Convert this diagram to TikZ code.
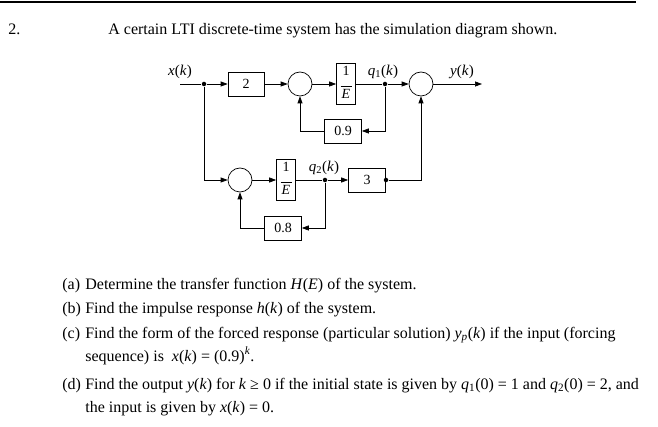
\documentclass[tikz,border=0pt]{standalone}
\usepackage{fontspec}
\setmainfont{Liberation Serif}
\usetikzlibrary{arrows.meta}
\newcommand{\iv}[1]{\textit{#1}}
\newcommand{\fracE}{\begin{tabular}{@{}c@{}}1\\[-4pt]\rule{11pt}{0.6pt}\\[-3pt]\iv{E}\end{tabular}}
\begin{document}
\begin{tikzpicture}[x=1pt,y=-1pt,
  blk/.style={draw,inner sep=0pt,minimum height=24pt,font=\fontsize{14}{15}\selectfont},
  intg/.style={draw,inner sep=1pt,minimum width=19pt,minimum height=41pt,font=\fontsize{14}{15}\selectfont},
  sumc/.style={draw,circle,minimum size=24pt,inner sep=0pt},
  dotn/.style={circle,fill,inner sep=0pt,minimum size=4.5pt},
  lbl/.style={font=\fontsize{15}{16}\selectfont},
  txt/.style={anchor=base west,inner sep=0pt,font=\fontsize{16}{17}\selectfont},
  ar/.style={-{Triangle[length=7pt,width=5pt]}},
  line width=0.7pt]
\useasboundingbox (0,0) rectangle (658,427);
\draw[line width=2pt] (0,2) -- (636,2);
\node[txt] (num) at (8,35) {2.};
\node[txt] (intro) at (108,35) {A certain LTI discrete-time system has the simulation diagram shown.};
% diagram
\coordinate (xin) at (180,84);
\node[dotn] (d1) at (204,84) {};
\node[blk,minimum width=36pt] (g2) at (246,84) {2};
\node[sumc] (s1) at (300,84) {};
\node[intg] (i1) at (346,84) {\fracE};
\node[dotn] (d2) at (385,84) {};
\node[sumc] (s2) at (421,84) {};
\coordinate (yout) at (482,84);
\node[blk,minimum width=37pt] (g09) at (343,131) {0.9};
\node[sumc] (s3) at (240,180) {};
\node[intg] (i2) at (286,180) {\fracE};
\node[dotn] (d3) at (325,180) {};
\node[blk,minimum width=37pt] (g3) at (367,180) {3};
\node[dotn] (d4) at (386,180) {};
\node[blk,minimum width=37pt] (g08) at (283,228) {0.8};
\node[lbl] (lx) at (180,72) {\iv{x}(\iv{k})};
\node[lbl] (lq1) at (383,72) {\iv{q}\textsubscript{1}(\iv{k})};
\node[lbl] (ly) at (462,72) {\iv{y}(\iv{k})};
\node[lbl] (lq2) at (324,168) {\iv{q}\textsubscript{2}(\iv{k})};
\draw (xin) -- (d1);
\draw[ar] (d1) -- (g2);
\draw[ar] (g2) -- (s1);
\draw[ar] (s1) -- (i1);
\draw (i1) -- (d2);
\draw[ar] (d2) -- (s2);
\draw[ar] (s2) -- (yout);
\draw[ar] (d2) |- (g09);
\draw[ar] (g09) -| (s1);
\draw[ar] (d1) |- (s3);
\draw[ar] (s3) -- (i2);
\draw (i2) -- (d3);
\draw[ar] (d3) -- (g3);
\draw[ar] (d3) |- (g08);
\draw[ar] (g08) -| (s3);
\draw[ar] (d4) -| (s2);
% questions
\node[txt] (qa) at (62,290) {(a)};
\node[txt] (ta) at (85,290) {Determine the transfer function \iv{H}(\iv{E}) of the system.};
\node[txt] (qb) at (62,314) {(b)};
\node[txt] (tb) at (85,314) {Find the impulse response \iv{h}(\iv{k}) of the system.};
\node[txt] (qc) at (62,338) {(c)};
\node[txt] (tc) at (85,338) {Find the form of the forced response (particular solution) \iv{y}\textsubscript{\iv{p}}(\iv{k}) if the input (forcing};
\node[txt] (tc2) at (85,361) {sequence) is \ \iv{x}(\iv{k}) = (0.9)\textsuperscript{\iv{k}}.};
\node[txt] (qd) at (62,389) {(d)};
\node[txt] (td) at (85,389) {Find the output \iv{y}(\iv{k}) for \iv{k} ≥ 0 if the initial state is given by \iv{q}\textsubscript{1}(0) = 1 and \iv{q}\textsubscript{2}(0) = 2, and};
\node[txt] (td2) at (85,412) {the input is given by \iv{x}(\iv{k}) = 0.};
\end{tikzpicture}
\end{document}
